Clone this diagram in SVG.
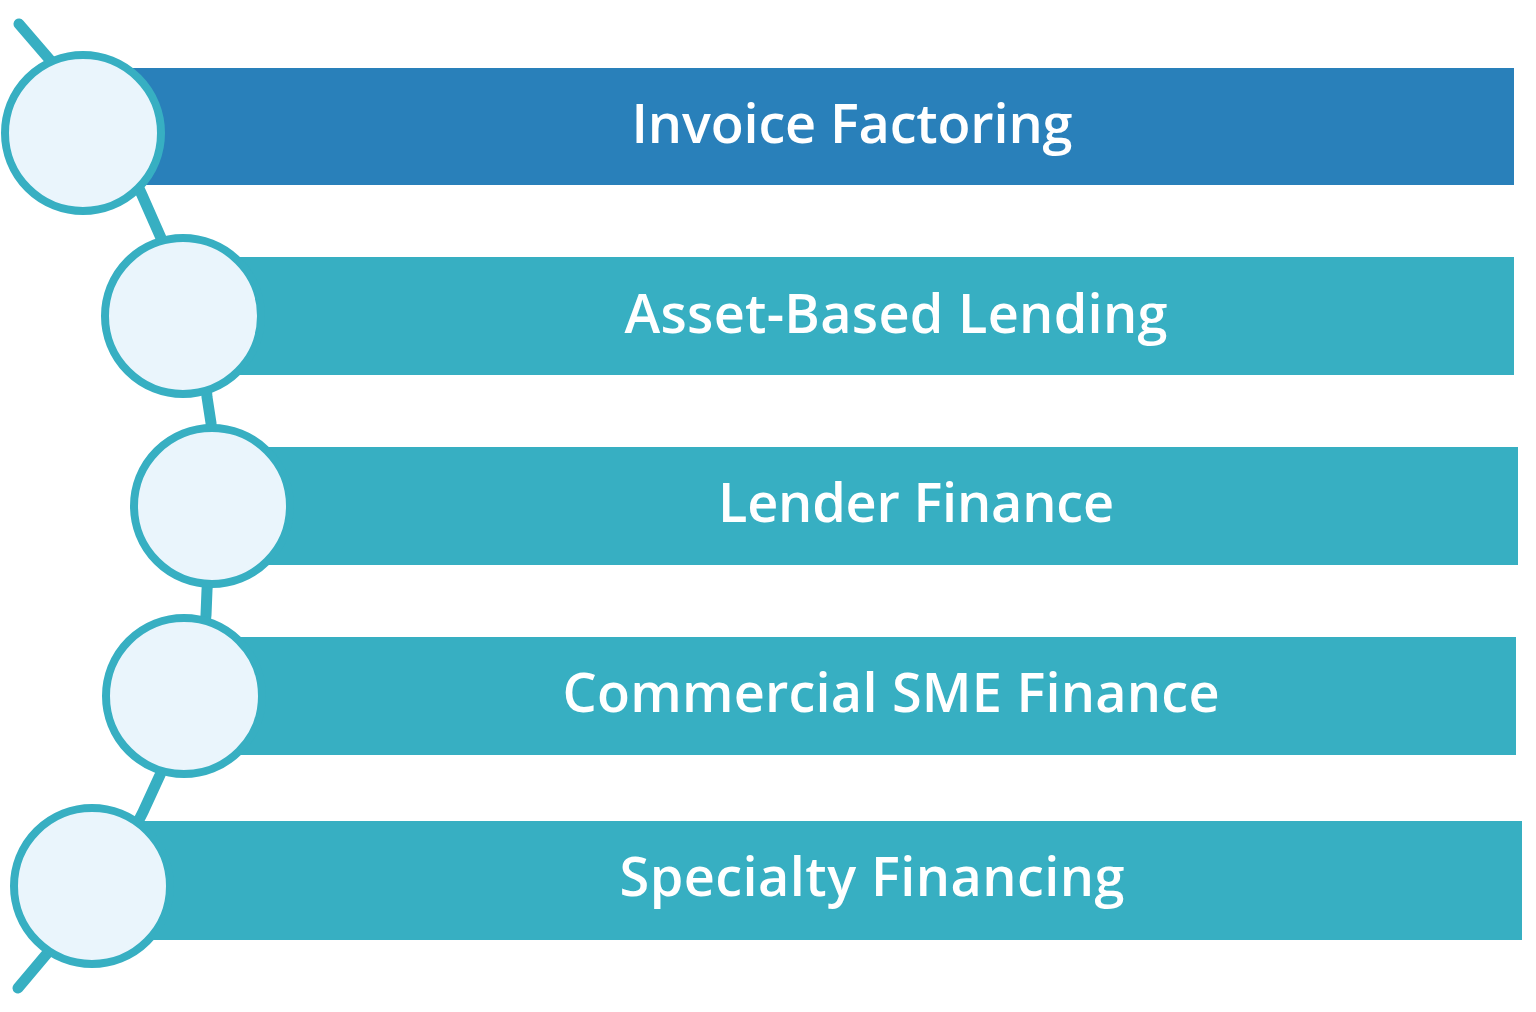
<svg xmlns="http://www.w3.org/2000/svg" width="1536" height="1012" viewBox="0 0 1536 1012">
<style>
.bar{fill:#37AFC2}
.bar1{fill:#2980BA}
.ring{fill:#EAF5FC;stroke:#37AFC2;stroke-width:8}
.lbl{font-family:"Open Sans","Liberation Sans",sans-serif;font-weight:600;font-size:54px;fill:#FFFFFF;text-anchor:middle}
.spine{fill:none;stroke:#37AFC2;stroke-width:11;stroke-linecap:round;stroke-linejoin:round}
</style>
<rect width="1536" height="1012" fill="#FFFFFF"/>
<g id="connectors">
<path class="spine" d="M19,24 L50,60 C75,89 126,158 142,195 L161,238 C178,276 205,360 207,397 L211,423 C214,470 212,540 207,590 L206,615 C200,680 180,712 160,775 L143,812 C120,860 80,915 50,950 L18,988"/>
</g>
<g id="node1">
<rect class="bar1" x="120" y="68" width="1394" height="117"/>
<circle class="ring" cx="83" cy="133" r="78"/>
<text class="lbl" x="852" y="143" textLength="441">Invoice Factoring</text>
</g>
<g id="node2">
<rect class="bar" x="200" y="257" width="1314" height="118"/>
<circle class="ring" cx="183" cy="316" r="78"/>
<text class="lbl" x="896" y="333" textLength="543">Asset-Based Lending</text>
</g>
<g id="node3">
<rect class="bar" x="220" y="447" width="1298" height="118"/>
<circle class="ring" cx="212" cy="506" r="78"/>
<text class="lbl" x="916" y="522" textLength="396">Lender Finance</text>
</g>
<g id="node4">
<rect class="bar" x="200" y="637" width="1316" height="118"/>
<circle class="ring" cx="184" cy="696" r="78"/>
<text class="lbl" x="891" y="712" textLength="657">Commercial SME Finance</text>
</g>
<g id="node5">
<rect class="bar" x="120" y="821" width="1402" height="119"/>
<circle class="ring" cx="92" cy="886" r="78"/>
<text class="lbl" x="872" y="896" textLength="505">Specialty Financing</text>
</g>
</svg>
